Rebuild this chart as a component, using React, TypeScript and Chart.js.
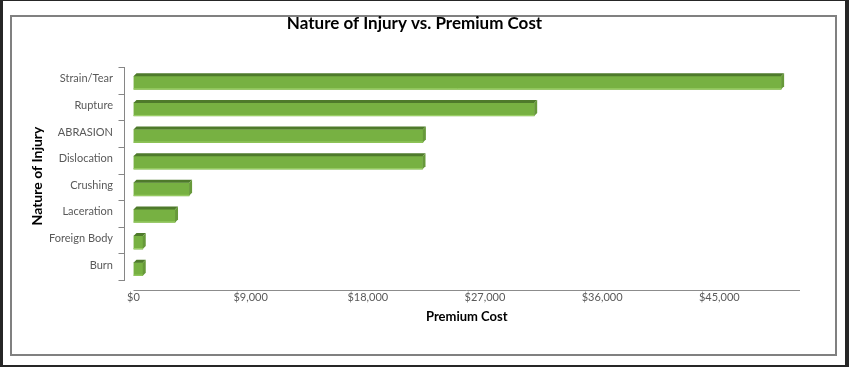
import React, { useEffect, useRef } from "react";
import { Chart, registerables } from "chart.js";

Chart.register(...registerables);

const chartTitle = "Nature of Injury vs. Premium Cost";
const categories = ["Strain/Tear", "Rupture", "ABRASION", "Dislocation", "Crushing", "Laceration", "Foreign Body", "Burn"];
const premiumCost = [49750, 30780, 22230, 22200, 4270, 3190, 710, 710];
const xTickValues = [0, 9000, 18000, 27000, 36000, 45000];
const xAxisTitle = "Premium Cost";
const yAxisTitle = "Nature of Injury";
const xMin = 0;
const xMax = 51200;

const FONT = "Lato, 'Open Sans', sans-serif";
const FRONT = "#77b142";
const TOP_FACE = "#4e7a2b";
const SIDE_FACE = "#67993a";
const EDGE_LIGHT = "#9ccf68";
const AXIS_GRAY = "#868686";

const depthPlugin = {
  id: "depth3d",
  afterDatasetsDraw(chart: any) {
    const ctx = chart.ctx;
    const meta = chart.getDatasetMeta(0);
    const d = 3;
    ctx.save();
    meta.data.forEach((el: any) => {
      const { x, y, base, height } = el.getProps(["x", "y", "base", "height"], true);
      const top = y - height / 2;
      const bottom = y + height / 2;
      ctx.fillStyle = TOP_FACE;
      ctx.beginPath();
      ctx.moveTo(base, top);
      ctx.lineTo(base + d, top - d);
      ctx.lineTo(x + d, top - d);
      ctx.lineTo(x, top);
      ctx.closePath();
      ctx.fill();
      ctx.fillStyle = SIDE_FACE;
      ctx.beginPath();
      ctx.moveTo(x, top);
      ctx.lineTo(x + d, top - d);
      ctx.lineTo(x + d, bottom - d);
      ctx.lineTo(x, bottom);
      ctx.closePath();
      ctx.fill();
      ctx.strokeStyle = EDGE_LIGHT;
      ctx.lineWidth = 1;
      ctx.beginPath();
      ctx.moveTo(base, bottom - 0.5);
      ctx.lineTo(x, bottom - 0.5);
      ctx.stroke();
    });
    ctx.restore();
  },
};

const axesPlugin = {
  id: "customAxes",
  afterDraw(chart: any) {
    const ctx = chart.ctx;
    const area = chart.chartArea;
    const n = categories.length;
    const pitch = (area.bottom - area.top) / n;
    const ax = Math.round(area.left - 10) + 0.5;
    const top = area.top - 2.5;
    ctx.save();
    ctx.strokeStyle = AXIS_GRAY;
    ctx.lineWidth = 1;
    ctx.beginPath();
    ctx.moveTo(ax, Math.round(top));
    ctx.lineTo(ax, Math.round(top + n * pitch) + 1);
    for (let i = 0; i <= n; i++) {
      const yy = Math.round(top + i * pitch) + 0.5;
      ctx.moveTo(ax - 6, yy);
      ctx.lineTo(ax, yy);
    }
    ctx.stroke();
    const xy = Math.round(area.bottom + 7.5) + 0.5;
    ctx.strokeStyle = "#8c8c8c";
    ctx.beginPath();
    ctx.moveTo(area.left, xy);
    ctx.lineTo(area.right, xy);
    ctx.stroke();
    ctx.restore();
  },
};

export default function App() {
  const canvasRef = useRef<HTMLCanvasElement | null>(null);

  useEffect(() => {
    if (!canvasRef.current) return;
    const chart = new Chart(canvasRef.current, {
      type: "bar",
      data: {
        labels: categories,
        datasets: [
          {
            label: xAxisTitle,
            data: premiumCost,
            backgroundColor: FRONT,
            borderWidth: 0,
            barThickness: 13,
          },
        ],
      },
      plugins: [depthPlugin, axesPlugin],
      options: {
        indexAxis: "y",
        animation: false,
        responsive: false,
        devicePixelRatio: 1,
        layout: { padding: { left: 29, right: 49, top: 0, bottom: 42.7 } },
        plugins: {
          legend: { display: false },
          tooltip: { enabled: false },
          title: {
            display: true,
            text: chartTitle,
            color: "#000000",
            font: { family: FONT, size: 17, weight: "bold" },
            padding: { top: 13.8, bottom: 35.3 },
          },
        },
        scales: {
          x: {
            type: "linear",
            min: xMin,
            max: xMax,
            grid: { display: false, drawTicks: false },
            border: { display: false },
            afterBuildTicks: (scale: any) => {
              scale.ticks = xTickValues.map((v) => ({ value: v }));
            },
            ticks: {
              padding: 8,
              color: "#595959",
              font: { family: FONT, size: 11 },
              callback: (v: any) => "$" + Number(v).toLocaleString("en-US"),
            },
            title: {
              display: true,
              text: xAxisTitle,
              color: "#000000",
              font: { family: FONT, size: 13, weight: "bold" },
              padding: 0,
            },
            afterFit: (scale: any) => {
              scale.height = 41.8;
            },
          },
          y: {
            grid: { display: false, drawTicks: false },
            border: { display: false },
            ticks: {
              padding: 20.5,
              labelOffset: -4,
              color: "#595959",
              font: { family: FONT, size: 11 },
            },
            title: {
              display: true,
              text: yAxisTitle,
              color: "#000000",
              font: { family: FONT, size: 14, weight: "bold" },
              padding: 0,
            },
            afterFit: (scale: any) => {
              scale.width = 104.5;
            },
          },
        },
      },
    } as any);
    return () => chart.destroy();
  }, []);

  return (
    <div style={{ position: "fixed", left: 0, top: 0, width: 849, height: 367, background: "#ffffff" }}>
      <div
        style={{
          position: "absolute",
          left: 0,
          top: 0,
          width: 849,
          height: 367,
          boxSizing: "border-box",
          borderStyle: "solid",
          borderColor: "#262626",
          borderWidth: "1px 4px 2px 3px",
        }}
      />
      <div
        style={{
          position: "absolute",
          left: 10,
          top: 15,
          width: 827,
          height: 341,
          boxSizing: "border-box",
          border: "2px solid #808080",
        }}
      />
      <canvas
        ref={canvasRef}
        width={849}
        height={367}
        style={{ position: "absolute", left: 0, top: 0, width: 849, height: 367 }}
      />
    </div>
  );
}
